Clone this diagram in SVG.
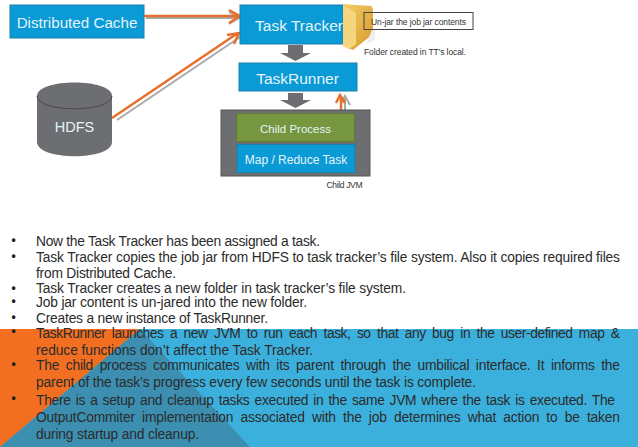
<svg xmlns="http://www.w3.org/2000/svg" width="638" height="447" viewBox="0 0 638 447">
<style>
.b{fill:#0a9ad6;stroke:#1d7faa;stroke-width:1}
.w{font-family:"Liberation Sans",sans-serif;fill:#e4f4fa;text-anchor:middle}
.t{font-family:"Liberation Sans",sans-serif;font-size:13.8px;fill:#2b2b2b}
.s{font-family:"Liberation Sans",sans-serif;font-size:8.5px;fill:#333}
.o{fill:none;stroke:#e8702a;stroke-width:2.5}
.g{fill:none;stroke:#a9a9a9;stroke-width:2}
.d{fill:#6d6e71}
.bu{font-family:"Liberation Sans",sans-serif;font-size:12px;font-weight:bold;fill:#1a1a1a}
</style>
<defs><linearGradient id="f" x1="0" y1="0" x2="1" y2="1"><stop offset="0" stop-color="#f3cf6a"/><stop offset="1" stop-color="#d8982a"/></linearGradient></defs>
<rect width="638" height="447" fill="#fff"/>
<g id="background">
<rect y="329" width="638" height="118" fill="#3cb0dc"/>
<polygon points="0,329 140,329 0,447" fill="#f26f21"/>
<polygon points="140,329 250,447 0,447" fill="#3c8fb0"/>
</g>
<g id="connectors">
<path class="g" d="M117,120L240,37"/>
<path class="g" d="M146,18L238,18M229,12L239,18L229,24"/>
<path class="o" d="M144,16L238,16M229,10L240,16L229,23"/>
<path class="o" d="M112,118L238,33M227,35L239,33L234,44"/>
<path class="d" d="M288,45H303V53H311L295.500,61L280,53H288Z"/>
<path class="d" d="M288,93H303V100H311L295.500,108L280,100H288Z"/>
<path class="g" d="M345,113V96M341,103L345,96L350,105"/>
<path class="o" d="M341,113V96M336,103L340,95L345,103"/>
</g>
<g id="distributed-cache"><rect class="b" x="10" y="5" width="134" height="33"/><text class="w" x="77" y="28" font-size="15.200">Distributed Cache</text></g>
<g id="task-tracker"><rect class="b" x="240" y="5" width="103" height="39"/><text class="w" x="299" y="31" font-size="15.500">Task Tracker</text></g>
<g id="folder"><path d="M343,4L371,6Q373,7 373,12V34L353,50L343,46Z" fill="url(#f)"/><path d="M343,5L356,13V44L349,49L343,46Z" fill="#f5d67e"/><path d="M372,30H375V40L366,44Z" fill="#eee"/></g>
<g id="unjar-note"><rect x="364" y="12.500" width="109" height="17" fill="none" stroke="#444"/><text class="s" x="371" y="25" textLength="95">Un-jar the job jar contents</text></g>
<g id="folder-note"><text class="s" x="364" y="54.500" textLength="102">Folder created in TT's local.</text></g>
<g id="task-runner"><rect class="b" x="239" y="63" width="118" height="28"/><text class="w" x="297.500" y="84" font-size="15.500">TaskRunner</text></g>
<g id="hdfs"><path class="d" d="M37,96C37,78 112,78 112,96V142C112,161 37,161 37,142Z"/><path d="M37,96C37,113 112,113 112,96" fill="none" stroke="#4a4a4c"/><text class="w" x="74.500" y="132" font-size="14.500">HDFS</text></g>
<g id="child-jvm"><rect x="221" y="110" width="149" height="66" fill="#6d6e71" stroke="#555"/><text class="s" x="326.500" y="188" textLength="36">Child JVM</text></g>
<g id="child-process"><rect x="236.500" y="113.500" width="118" height="28" fill="#76963f" stroke="#5f7a32"/><text class="w" x="295.500" y="133" font-size="11.500">Child Process</text></g>
<g id="map-reduce"><rect class="b" x="237" y="144.500" width="118" height="28"/><text class="w" x="296" y="164" font-size="12">Map / Reduce Task</text></g>
<g id="text">
<text class="bu" x="11.500" y="244">•</text><text class="t" x="36" y="246" textLength="284">Now the Task Tracker has been assigned a task.</text>
<text class="bu" x="11.500" y="260">•</text><text class="t" x="36" y="262" textLength="584">Task Tracker copies the job jar from HDFS to task tracker’s file system. Also it copies required files</text>
<text class="t" x="36" y="278" textLength="140">from Distributed Cache.</text>
<text class="bu" x="11.500" y="292">•</text><text class="t" x="36" y="293" textLength="370">Task Tracker creates a new folder in task tracker’s file system.</text>
<text class="bu" x="11.500" y="305">•</text><text class="t" x="36" y="307" textLength="271">Job jar content is un-jared into the new folder.</text>
<text class="bu" x="11.500" y="321">•</text><text class="t" x="36" y="323" textLength="232">Creates a new instance of TaskRunner.</text>
<text class="bu" x="11.500" y="335">•</text><text class="t" x="36" y="338" word-spacing="3" textLength="584">TaskRunner launches a new JVM to run each task, so that any bug in the user-defined map &amp;</text>
<text class="t" x="36" y="355" textLength="277">reduce functions don’t affect the Task Tracker.</text>
<text class="bu" x="11.500" y="368">•</text><text class="t" x="36" y="370" word-spacing="3" textLength="584">The child process communicates with its parent through the umbilical interface. It informs the</text>
<text class="t" x="36" y="387" textLength="440">parent of the task’s progress every few seconds until the task is complete.</text>
<text class="bu" x="11.500" y="402">•</text><text class="t" x="36" y="405" word-spacing="1.500" textLength="579">There is a setup and cleanup tasks executed in the same JVM where the task is executed. The</text>
<text class="t" x="36" y="422" word-spacing="3.500" textLength="584">OutputCommiter implementation associated with the job determines what action to be taken</text>
<text class="t" x="36" y="439" textLength="163">during startup and cleanup.</text>
</g>
</svg>
